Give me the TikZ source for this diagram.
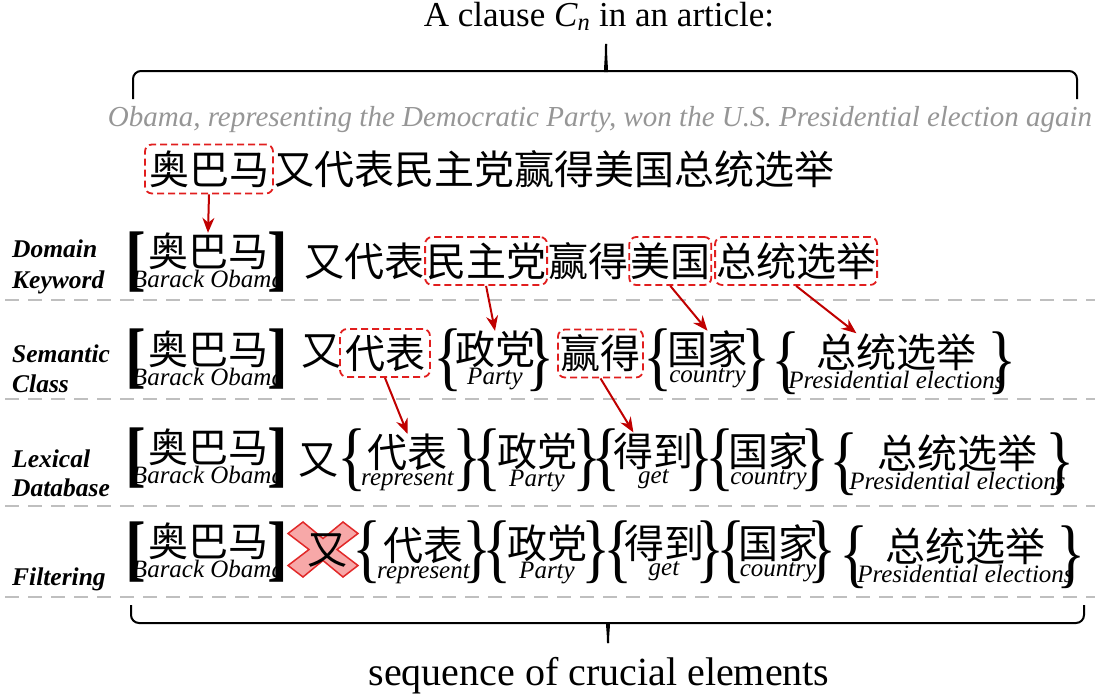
\documentclass[tikz,border=0pt]{standalone}
\usepackage{fontspec}
\setmainfont{Liberation Serif}
\newfontfamily\cjk{Noto Sans CJK SC}
\usepackage{graphicx}
\usetikzlibrary{positioning, calc, arrows.meta}
\definecolor{kwred}{RGB}{225,30,30}
\definecolor{arrred}{RGB}{192,0,0}
\definecolor{xfill}{RGB}{247,168,168}
\definecolor{xline}{RGB}{225,40,40}
\definecolor{engray}{RGB}{150,150,150}
\newcommand{\brL}{\makebox[0pt]{\scalebox{0.8}[1]{\{}}}
\newcommand{\brR}{\makebox[0pt]{\scalebox{0.8}[1]{\}}}}
\newcommand{\bkL}{\makebox[0pt]{\scalebox{0.85}[1]{[}}}
\newcommand{\bkR}{\makebox[0pt]{\scalebox{0.85}[1]{]}}}

\begin{document}
\begin{tikzpicture}[
    x=1pt, y=1pt,
    cn/.style={font=\cjk\fontsize{40}{40}\selectfont, inner sep=0pt},
    kw/.style={cn, draw=kwred, line width=1.8pt, dash pattern=on 7pt off 4pt, rounded corners=7pt, inner xsep=1pt, minimum height=48pt},
    gl/.style={font=\fontsize{25}{25}\selectfont\itshape, inner sep=0pt},
    lab/.style={font=\fontsize{25.5}{25.5}\selectfont\bfseries\itshape, inner sep=0pt, anchor=base west},
    brc/.style={font=\fontsize{76}{76}\selectfont, inner sep=0pt},
    bkt/.style={font=\fontsize{73}{73}\selectfont\bfseries, inner sep=0pt},
    arr/.style={-{Stealth[length=15pt,width=12pt]}, line width=2pt, draw=arrred},
    rowline/.style={draw=black!25, line width=2.2pt, dash pattern=on 14pt off 9pt},
    bigbrace/.style={line width=2pt, rounded corners=8pt},
    xmark/.style={fill=xfill, draw=xline, line width=1.5pt, line join=miter}
]
\useasboundingbox (0,0) rectangle (1099,-693);

% title and clause
\node[font=\fontsize{35}{35}\selectfont, anchor=base, inner sep=0pt] (ttl) at (599,-27) {A clause \textit{C}\textsubscript{\textit{n}} in an article:};
\draw[bigbrace] (133,-99) |- (598,-71) .. controls (604,-71) and (606,-64) .. (606,-44);
\draw[bigbrace] (1077,-99) |- (614,-71) .. controls (608,-71) and (606,-64) .. (606,-44);
\node[font=\fontsize{29}{29}\selectfont\itshape, text=engray, anchor=base, inner sep=0pt] (en) at (600,-126) {Obama, representing the Democratic Party, won the U.S. Presidential election again};
\node[kw, inner xsep=4pt, minimum height=49pt] (s1) at (209,-169) {奥巴马};
\node[cn, right=0pt of s1] (s2) {又代表民主党赢得美国总统选举};

% row labels
\node[lab] (l1a) at (12,-257) {Domain};
\node[lab] (l1b) at (12,-288) {Keyword};
\node[lab] (l2a) at (12,-362) {Semantic};
\node[lab] (l2b) at (12,-392) {Class};
\node[lab] (l3a) at (12,-467) {Lexical};
\node[lab] (l3b) at (12,-496) {Database};
\node[lab] (l4a) at (12,-585) {Filtering};

% separators
\draw[rowline] (5,-300) -- (1095,-300);
\draw[rowline] (5,-399) -- (1095,-399);
\draw[rowline] (5,-506) -- (1095,-506);
\draw[rowline] (5,-597) -- (1095,-597);

% domain keyword
\node[cn] (r1a) at (208,-251.5) {奥巴马};
\node[gl, below=0pt of r1a] (r1ag) {Barack Obama};
\node[bkt] (r1bl) at (135.5,-262.5) {\bkL};
\node[bkt] (r1br) at (277.5,-262.5) {\bkR};
\node[cn] (r1b) at (364,-261) {又代表};
\node[kw, right=0pt of r1b] (k1) {民主党};
\node[cn, right=0pt of k1] (r1c) {赢得};
\node[kw, right=0pt of r1c] (k2) {美国};
\node[kw, right=2pt of k2] (k3) {总统选举};

% semantic class
\node[cn] (r2a) at (208,-349.5) {奥巴马};
\node[gl, below=0pt of r2a] (r2ag) {Barack Obama};
\node[bkt] (r2bl) at (135.5,-359) {\bkL};
\node[bkt] (r2br) at (277.5,-359) {\bkR};
\node[cn] (r2b) at (321,-351.5) {又};
\node[kw, inner xsep=5pt] (k4) at (385,-353) {代表};
\node[cn] (r2p) at (495,-349.5) {政党};
\node[gl, below=0pt of r2p] (r2pg) {Party};
\node[brc] (r2l1) at (448.5,-360.5) {\brL};
\node[brc] (r2r1) at (540,-360.5) {\brR};
\node[kw, inner xsep=2.5pt] (k5) at (600.5,-353.5) {赢得};
\node[cn] (r2c) at (707.5,-349.5) {国家};
\node[gl, below=0pt of r2c] (r2cg) {country};
\node[brc] (r2l2) at (658,-360.5) {\brL};
\node[brc] (r2r2) at (756,-360.5) {\brR};
\node[cn] (r2e) at (896.5,-352) {总统选举};
\node[gl, below=0pt of r2e] (r2eg) {Presidential elections};
\node[brc] (r2l3) at (786,-363) {\brL};
\node[brc] (r2r3) at (1002,-363) {\brR};

% lexical database
\node[cn] (r3a) at (208,-447.5) {奥巴马};
\node[gl, below=0pt of r3a] (r3ag) {Barack Obama};
\node[bkt] (r3bl) at (135.5,-458.5) {\bkL};
\node[bkt] (r3br) at (277.5,-458.5) {\bkR};
\node[cn] (r3b) at (318,-460.5) {又};
\node[cn] (r3d) at (407.5,-452.5) {代表};
\node[gl, below=0pt of r3d] (r3dg) {represent};
\node[brc] (r3l1) at (352.5,-460.5) {\brL};
\node[brc] (r3r1) at (467,-460.5) {\brR};
\node[cn] (r3p) at (537,-451) {政党};
\node[gl, below=0pt of r3p] (r3pg) {Party};
\node[brc] (r3l2) at (487.5,-460.5) {\brL};
\node[brc] (r3r2) at (587,-460.5) {\brR};
\node[cn] (r3g) at (653.5,-451) {得到};
\node[gl, below=0pt of r3g] (r3gg) {get};
\node[brc] (r3l3) at (606,-460.5) {\brL};
\node[brc] (r3r3) at (699.5,-460.5) {\brR};
\node[cn] (r3c) at (768.5,-451) {国家};
\node[gl, below=0pt of r3c] (r3cg) {country};
\node[brc] (r3l4) at (720,-460.5) {\brL};
\node[brc] (r3r4) at (815.5,-460.5) {\brR};
\node[cn] (r3e) at (957.5,-453) {总统选举};
\node[gl, below=0pt of r3e] (r3eg) {Presidential elections};
\node[brc] (r3l5) at (844.5,-464) {\brL};
\node[brc] (r3r5) at (1060.5,-464) {\brR};

% filtering
\node[cn] (r4a) at (208,-541) {奥巴马};
\node[gl, below=0pt of r4a] (r4ag) {Barack Obama};
\node[bkt] (r4bl) at (135.5,-552) {\bkL};
\node[bkt] (r4br) at (277.5,-552) {\bkR};
\begin{scope}[shift={(323,-549.5)}]
\draw[xmark] (-20,27.5) -- (0,11) -- (20,27.5) -- (35,16) -- (14,0) -- (35,-16) -- (20,-27.5) -- (0,-11) -- (-20,-27.5) -- (-35,-16) -- (-14,0) -- (-35,16) -- cycle;
\end{scope}
\node[cn] (r4b) at (327,-550) {又};
\node[cn] (r4d) at (423.5,-545.5) {代表};
\node[gl, below=0pt of r4d] (r4dg) {represent};
\node[brc] (r4l1) at (367,-552.5) {\brL};
\node[brc] (r4r1) at (477,-552.5) {\brR};
\node[cn] (r4p) at (547,-543) {政党};
\node[gl, below=0pt of r4p] (r4pg) {Party};
\node[brc] (r4l2) at (497,-552.5) {\brL};
\node[brc] (r4r2) at (596,-552.5) {\brR};
\node[cn] (r4g) at (664,-543) {得到};
\node[gl, below=0pt of r4g] (r4gg) {get};
\node[brc] (r4l3) at (618,-552.5) {\brL};
\node[brc] (r4r3) at (710,-552.5) {\brR};
\node[cn] (r4c) at (778,-543) {国家};
\node[gl, below=0pt of r4c] (r4cg) {country};
\node[brc] (r4l4) at (731,-552.5) {\brL};
\node[brc] (r4r4) at (822.5,-552.5) {\brR};
\node[cn] (r4e) at (965.5,-546) {总统选举};
\node[gl, below=0pt of r4e] (r4eg) {Presidential elections};
\node[brc] (r4l5) at (854,-557) {\brL};
\node[brc] (r4r5) at (1071,-557) {\brR};

% arrows
\draw[arr] (s1.south) -- (r1a.north);
\draw[arr] (k1.south) -- (r2p.north);
\draw[arr] (k2.south) -- (r2c.north);
\draw[arr] (k3.south) -- ($(r2e.north west)!0.5!(r2e.north)$);
\draw[arr] (k4.south) -- (r3d.north);
\draw[arr] (k5.south) -- ($(r3g.north west)!0.5!(r3g.north)$);

% result
\draw[bigbrace] (131,-605) |- (600,-623) .. controls (606,-623) and (608,-630) .. (608,-643);
\draw[bigbrace] (1084,-605) |- (616,-623) .. controls (610,-623) and (608,-630) .. (608,-643);
\node[font=\fontsize{40}{40}\selectfont, anchor=base, inner sep=0pt] (seq) at (599,-685) {sequence of crucial elements};
\end{tikzpicture}
\end{document}
